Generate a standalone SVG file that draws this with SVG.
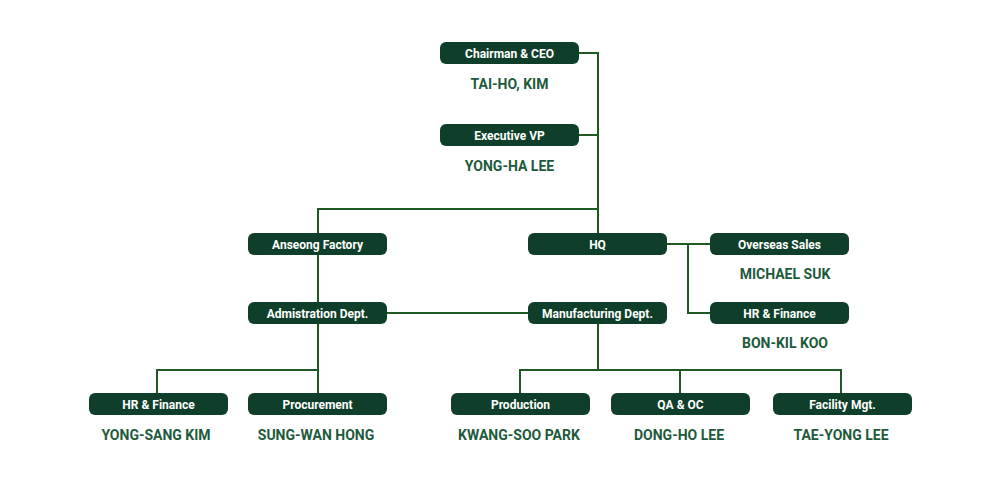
<svg xmlns="http://www.w3.org/2000/svg" width="1000" height="485" viewBox="0 0 1000 485">
<style>
.b{fill:#0f3f2a}
.t{fill:#fff;font-family:Roboto,"Liberation Sans",sans-serif;font-weight:bold;font-size:12px;text-anchor:middle}
.n{fill:#1d5a3c;font-family:Roboto,"Liberation Sans",sans-serif;font-weight:bold;font-size:14px;text-anchor:middle}
.c{fill:none;stroke:#1f5a22;stroke-width:2}
</style>
<rect width="1000" height="485" fill="#fff"/>
<g id="connectors" class="c">
<path d="M579 53H598V233M579 135H598M598 209H318V233M318 255V302M318 324V393M318 370H157V393M387 313H528M598 324V370M520 393V370H841V393M680 370V393M667 244H710M688 244V313H710"/>
</g>
<g id="ceo"><rect class="b" x="440" y="42" width="139" height="22" rx="6"/><text class="t" x="509.5" y="57.5">Chairman &amp; CEO</text><text class="n" x="509.5" y="89">TAI-HO, KIM</text></g>
<g id="evp"><rect class="b" x="440" y="124" width="139" height="22" rx="6"/><text class="t" x="509.5" y="139.5">Executive VP</text><text class="n" x="509.5" y="171">YONG-HA LEE</text></g>
<g id="anseong"><rect class="b" x="248" y="233" width="139" height="22" rx="6"/><text class="t" x="317.5" y="248.5">Anseong Factory</text></g>
<g id="hq"><rect class="b" x="528" y="233" width="139" height="22" rx="6"/><text class="t" x="597.5" y="248.5">HQ</text></g>
<g id="overseas"><rect class="b" x="710" y="233" width="139" height="22" rx="6"/><text class="t" x="779.5" y="248.5">Overseas Sales</text><text class="n" x="785" y="279">MICHAEL SUK</text></g>
<g id="admin"><rect class="b" x="248" y="302" width="139" height="22" rx="6"/><text class="t" x="317.5" y="317.5">Admistration Dept.</text></g>
<g id="mfg"><rect class="b" x="528" y="302" width="139" height="22" rx="6"/><text class="t" x="597.5" y="317.5">Manufacturing Dept.</text></g>
<g id="hrhq"><rect class="b" x="710" y="302" width="139" height="22" rx="6"/><text class="t" x="779.5" y="317.5">HR &amp; Finance</text><text class="n" x="785" y="348">BON-KIL KOO</text></g>
<g id="hr"><rect class="b" x="89" y="393" width="139" height="22" rx="6"/><text class="t" x="158.5" y="408.5">HR &amp; Finance</text><text class="n" x="156" y="440">YONG-SANG KIM</text></g>
<g id="proc"><rect class="b" x="248" y="393" width="139" height="22" rx="6"/><text class="t" x="317.5" y="408.5">Procurement</text><text class="n" x="316" y="440">SUNG-WAN HONG</text></g>
<g id="prod"><rect class="b" x="451" y="393" width="139" height="22" rx="6"/><text class="t" x="520.5" y="408.5">Production</text><text class="n" x="519" y="440">KWANG-SOO PARK</text></g>
<g id="qa"><rect class="b" x="611" y="393" width="139" height="22" rx="6"/><text class="t" x="680.5" y="408.5">QA &amp; OC</text><text class="n" x="679" y="440">DONG-HO LEE</text></g>
<g id="fac"><rect class="b" x="773" y="393" width="139" height="22" rx="6"/><text class="t" x="842.5" y="408.5">Facility Mgt.</text><text class="n" x="841" y="440">TAE-YONG LEE</text></g>
</svg>
